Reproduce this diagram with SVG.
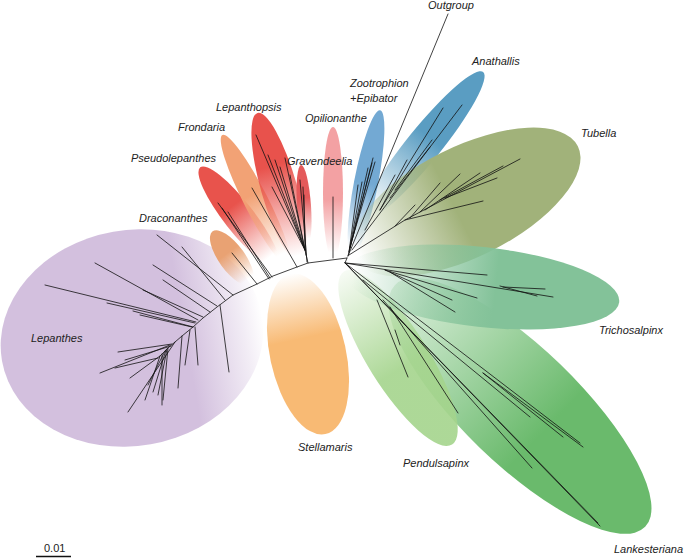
<svg xmlns="http://www.w3.org/2000/svg" width="685" height="559" viewBox="0 0 685 559">
<style>
.lbl{font-family:"Liberation Sans",Arial,sans-serif;font-style:italic;font-size:11px;fill:#222}
.num{font-family:"Liberation Sans",Arial,sans-serif;font-size:11px;fill:#222}
.br{fill:none;stroke:#111;stroke-width:0.8;stroke-linecap:round;stroke-linejoin:round}
</style>
<defs>
<linearGradient id="gLep"><stop offset="0" stop-color="#d3c0de" stop-opacity="0"/><stop offset="0.08" stop-color="#d3c0de" stop-opacity="0.3"/><stop offset="0.3" stop-color="#d3c0de"/></linearGradient>
<linearGradient id="gDra"><stop offset="0.1" stop-color="#e9a273" stop-opacity="0"/><stop offset="0.6" stop-color="#e9a273"/></linearGradient>
<linearGradient id="gPse"><stop offset="0.1" stop-color="#e8534c" stop-opacity="0"/><stop offset="0.6" stop-color="#e8534c"/></linearGradient>
<linearGradient id="gFro"><stop offset="0.1" stop-color="#f2a275" stop-opacity="0"/><stop offset="0.55" stop-color="#f2a275"/></linearGradient>
<linearGradient id="gLps"><stop offset="0.05" stop-color="#e8524c" stop-opacity="0"/><stop offset="0.65" stop-color="#e8524c"/></linearGradient>
<linearGradient id="gGra"><stop offset="0.1" stop-color="#e4595a" stop-opacity="0"/><stop offset="0.6" stop-color="#e4595a"/></linearGradient>
<linearGradient id="gOpi"><stop offset="0.05" stop-color="#f3a1a3" stop-opacity="0"/><stop offset="0.45" stop-color="#f3a1a3"/></linearGradient>
<linearGradient id="gZoo"><stop offset="0.05" stop-color="#73a9d3" stop-opacity="0"/><stop offset="0.5" stop-color="#73a9d3"/></linearGradient>
<linearGradient id="gAna"><stop offset="0.05" stop-color="#5a9dc2" stop-opacity="0"/><stop offset="0.55" stop-color="#5a9dc2"/></linearGradient>
<linearGradient id="gTub"><stop offset="0.02" stop-color="#a1b27a" stop-opacity="0"/><stop offset="0.45" stop-color="#a1b27a"/></linearGradient>
<linearGradient id="gTri"><stop offset="0.03" stop-color="#83c299" stop-opacity="0"/><stop offset="0.55" stop-color="#83c299"/></linearGradient>
<linearGradient id="gPen"><stop offset="0" stop-color="#a4d48c" stop-opacity="0.1"/><stop offset="0.55" stop-color="#a4d48c"/></linearGradient>
<linearGradient id="gLan"><stop offset="0" stop-color="#6aba6c" stop-opacity="0.2"/><stop offset="0.6" stop-color="#6aba6c"/></linearGradient>
<linearGradient id="gSte"><stop offset="0" stop-color="#f8ba74" stop-opacity="0"/><stop offset="0.4" stop-color="#f8ba74"/></linearGradient>
</defs>
<rect width="685" height="559" fill="#fff"/>

<g id="lepanthes" transform="translate(132,338) rotate(170)"><ellipse rx="132" ry="108" fill="url(#gLep)"/></g>
<g id="stellamaris" transform="translate(308,354) rotate(77.7)"><ellipse rx="82" ry="38" fill="url(#gSte)"/></g>
<g id="draconanthes" transform="translate(232,258) rotate(234)"><ellipse rx="33" ry="13" fill="url(#gDra)"/></g>
<g id="pseudolepanthes" transform="translate(239,217) rotate(232)"><ellipse rx="63" ry="15" fill="url(#gPse)"/></g>
<g id="frondaria" transform="translate(256,201) rotate(-117)"><ellipse rx="74" ry="12" fill="url(#gFro)"/></g>
<g id="lepanthopsis" transform="translate(279,188) rotate(-106)"><ellipse rx="78" ry="18" fill="url(#gLps)"/></g>
<g id="gravendeelia" transform="translate(304,206) rotate(-94)"><ellipse rx="41" ry="7" fill="url(#gGra)"/></g>
<g id="opilionanthe" transform="translate(333,193) rotate(-90)"><ellipse rx="66" ry="10" fill="url(#gOpi)"/></g>
<g id="zootrophion" transform="translate(366,183) rotate(-79)"><ellipse rx="74" ry="12" fill="url(#gZoo)"/></g>
<g id="anathallis" transform="translate(424,145) rotate(-51)"><ellipse rx="94" ry="17" fill="url(#gAna)"/></g>
<g id="tubella" transform="translate(466,202) rotate(-26.5)"><ellipse rx="125" ry="55" fill="url(#gTub)"/></g>
<g id="lankesteriana" transform="translate(520,406) rotate(44)"><ellipse rx="174" ry="58" fill="url(#gLan)"/></g>
<g id="pendulsapinx" transform="translate(398,358) rotate(58)"><ellipse rx="102" ry="30" fill="url(#gPen)" opacity="0.9"/></g>
<g id="trichosalpinx" transform="translate(482,287) rotate(6.3)"><ellipse rx="138" ry="40" fill="url(#gTri)"/></g>

<g id="tree" class="br">
<path d="M347,258 L308,263 L297,267 L273,276 L257,284 L233,295 L217,307 L203,318 L193,327 L182,336 L175,342 L168,348 L160,356"/>
<path d="M233,295 L157,235 M225,300 L182,247 M217,306 L153,265 M210,312 L163,280 M203,317 L143,290 M198,320 L95,263 M196,322 L45,285 M195,323 L107,303 M193,327 L133,311 M192,327 L140,315"/>
<path d="M220,305 L229,372 M195,327 L198,365 M190,330 L185,365 M182,336 L178,388"/>
<path d="M175,342 L128,412 M170,345 L100,373 M172,344 L118,352 M171,346 L125,360 M168,348 L163,400 M167,349 L158,395 M166,350 L153,392 M165,351 L148,385 M160,356 L130,378 M158,358 L115,368 M162,354 L162,405 M160,356 L145,400"/>
<path d="M257,284 L232,253"/>
<path d="M272,277 L218,203 M270,278 L228,212 M269,279 L222,208"/>
<path d="M297,267 L252,188"/>
<path d="M308,263 L305,250 L256,135 M305,250 L268,155 M305,250 L272,187 M305,250 L285,158 M305,250 L280,167 M305,250 L290,175 M303,245 L275,160"/>
<path d="M307,262 L300,180 M306,255 L303,187 M305,250 L304,195"/>
<path d="M333,258 L333,197"/>
<path d="M348,256 L373,158 M350,248 L372,163 M352,240 L375,162 M350,248 L368,168 M349,252 L362,182 M349,252 L358,185"/>
<path d="M348,256 L448,14"/>
<path d="M352,250 L462,105 M380,210 L443,108 M395,190 L432,140 M390,198 L430,147 M380,210 L407,160 M365,230 L395,175"/>
<path d="M349,255 L405,220 L520,159 M440,200 L503,166 M445,198 L497,178 M425,210 L480,173 M405,220 L483,201 M420,212 L460,174 M410,218 L440,183 M395,226 L415,205"/>
<path d="M347,258 L345,263 L487,275 M345,263 L553,297 M503,287 L545,289 M500,286 L537,296 M385,270 L477,298 M385,270 L452,300 M390,272 L455,312"/>
<path d="M345,263 L600,526 M345,263 L598,523 M345,263 L580,443 M483,373 L563,437 M483,373 L583,447 M363,280 L530,417 M383,300 L532,468 M390,307 L458,413 M377,300 L408,377 M395,330 L400,345"/>
</g>

<g id="labels">
<text class="lbl" x="428" y="9">Outgroup</text>
<text class="lbl" x="472" y="65">Anathallis</text>
<text class="lbl" x="350" y="87">Zootrophion</text>
<text class="lbl" x="350" y="102">+Epibator</text>
<text class="lbl" x="581" y="137">Tubella</text>
<text class="lbl" x="305" y="122">Opilionanthe</text>
<text class="lbl" x="216" y="111">Lepanthopsis</text>
<text class="lbl" x="178" y="131">Frondaria</text>
<text class="lbl" x="131" y="162">Pseudolepanthes</text>
<text class="lbl" x="287" y="165">Gravendeelia</text>
<text class="lbl" x="139" y="222">Draconanthes</text>
<text class="lbl" x="31" y="342">Lepanthes</text>
<text class="lbl" x="298" y="451">Stellamaris</text>
<text class="lbl" x="599" y="334">Trichosalpinx</text>
<text class="lbl" x="403" y="467">Pendulsapinx</text>
<text class="lbl" x="614" y="553">Lankesteriana</text>
</g>
<g id="scale">
<text class="num" x="44" y="552">0.01</text>
<line x1="36" y1="556.5" x2="71" y2="556.5" stroke="#111" stroke-width="1.3"/>
</g>
</svg>
